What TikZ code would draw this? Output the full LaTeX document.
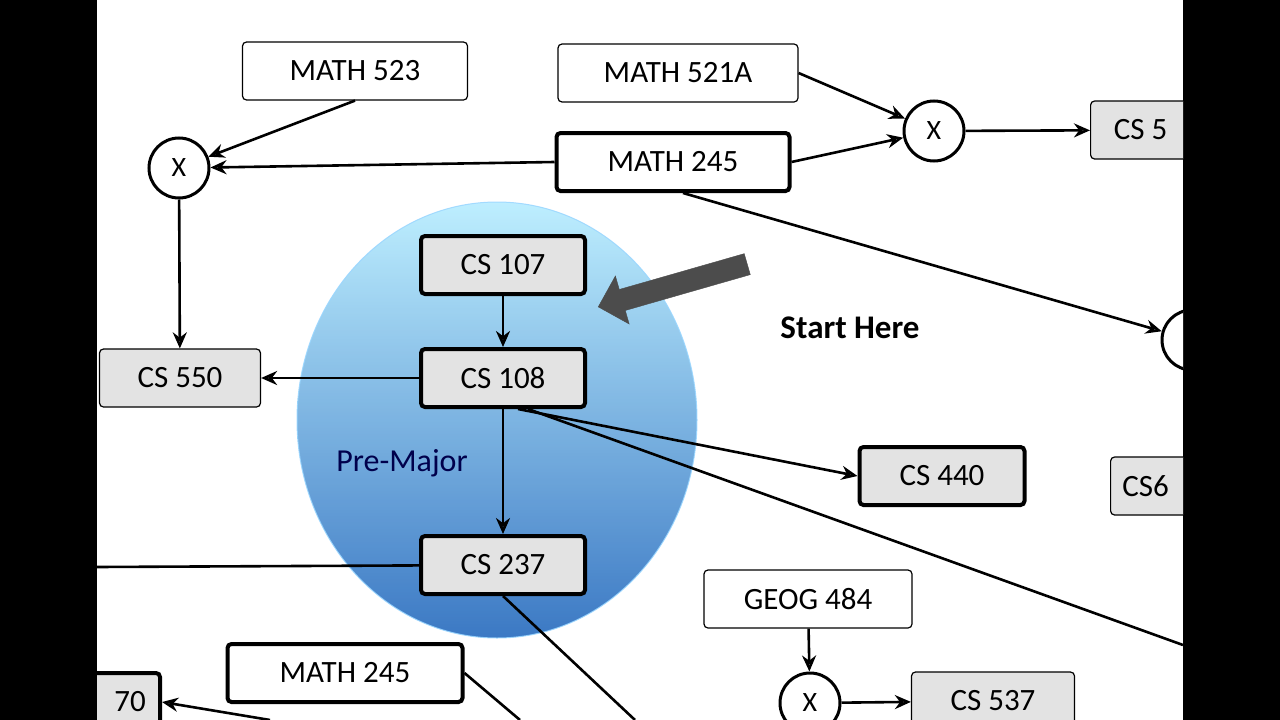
\documentclass[tikz,border=0pt]{standalone}
\usepackage{fontspec}
\setmainfont{Carlito}
\usetikzlibrary{arrows.meta,shapes.arrows}
\begin{document}
\begin{tikzpicture}[x=1pt,y=-1pt,
 box/.style={draw=black,rounded corners=4pt,line width=1.2pt,minimum height=58pt,font=\fontsize{31}{31}\selectfont,inner sep=0pt},
 thk/.style={line width=4pt},
 gray/.style={fill=gray!22},
 cx/.style={draw,circle,line width=3pt,fill=white,minimum size=60pt,inner sep=0pt,font=\fontsize{28}{28}\selectfont},
 ar/.style={line width=2.6pt,-{Stealth[length=16pt,width=14pt,open]}},
 ln/.style={line width=2.6pt}]
\useasboundingbox (0,0) rectangle (1280,720);
\fill[black] (0,0) rectangle (1280,720);
\fill[white] (97,0) rectangle (1183,720);
\begin{scope}
\clip (97,0) rectangle (1183,720);
\shade[top color=blue!25!cyan!30,bottom color=blue!55!cyan!70!black!90, draw=blue!40!cyan!40,line width=1pt,opacity=0.85] (497,420) ellipse (200 and 218);
\node[box,minimum width=225pt] (m523) at (355,71) {MATH 523};
\node[box,minimum width=240pt] (m521) at (678,73) {MATH 521A};
\node[box,thk,minimum width=233pt] (m245) at (673,162) {MATH 245};
\node[cx] (xl) at (179,168) {X};
\node[cx] (xr) at (934,131) {X};
\node[box,gray,minimum width=160pt,anchor=west] (cs5) at (1090,130) {\hspace*{-60pt}CS 5};
\node[cx] (cr) at (1192,340) {};
\node[box,thk,gray,minimum width=164pt] (c107) at (503,265) {CS 107};
\node[box,thk,gray,minimum width=164pt] (c108) at (503,378) {CS 108};
\node[box,thk,gray,minimum width=164pt] (c237) at (503,565) {CS 237};
\node[box,gray,minimum width=161pt] (c550) at (180,378) {CS 550};
\node[box,thk,gray,minimum width=165pt] (c440) at (942,476) {CS 440};
\node[box,gray,minimum width=120pt,anchor=west] (c6) at (1110,486) {\hspace*{-50pt}CS6};
\node[box,minimum width=208pt] (geog) at (808,599) {GEOG 484};
\node[cx] (xb) at (810,703) {X};
\node[box,gray,minimum width=163pt] (c537) at (993,701) {CS 537};
\node[box,thk,minimum width=235pt] (mb) at (345,673) {MATH 245};
\node[box,thk,gray,minimum width=120pt] (c70) at (100,702) {\hspace*{60pt}70};
\node[font=\fontsize{32}{32}\selectfont,text=blue!30!black] (pm) at (402,463) {Pre-Major};
\node[font=\bfseries\fontsize{33}{33}\selectfont] (sh) at (850,328) {Start Here};
\coordinate (r1) at (1183,645);
\coordinate (l1) at (97,567);
\coordinate (b1) at (635,720);
\coordinate (b2) at (520,720);
\coordinate (b3) at (270,720);
\draw[ar] (m523.south) -- (xl);
\draw[ar] (m245.west) -- (xl);
\draw[ar] (xl) -- (c550);
\draw[ar] (m521.east) -- (xr);
\draw[ar] (m245.east) -- (xr);
\draw[ar] (xr) -- (cs5);
\draw[ar] (m245.south) ++(10,0) -- (cr);
\draw[ar] (c107) -- (c108);
\draw[ar] (c108) -- (c550);
\draw[ar] (c108) -- (c237);
\draw[ar] (c108.south) ++(15,0) -- (c440.west);
\draw[ln] (c108.south) ++(25,0) -- (r1);
\draw[ln] (c237) -- (l1);
\draw[ln] (c237.south) -- (b1);
\draw[ln] (mb.east) -- (b2);
\draw[ar] (b3) -- (c70.east);
\draw[ar] (geog) -- (xb);
\draw[ar] (xb) -- (c537);
\node[single arrow,fill=black!70,draw=black!70,minimum height=155pt,minimum width=50pt,single arrow head extend=8pt,inner sep=6pt,rotate=196] (sa) at (678,284) {};
\end{scope}
\end{tikzpicture}
\end{document}
